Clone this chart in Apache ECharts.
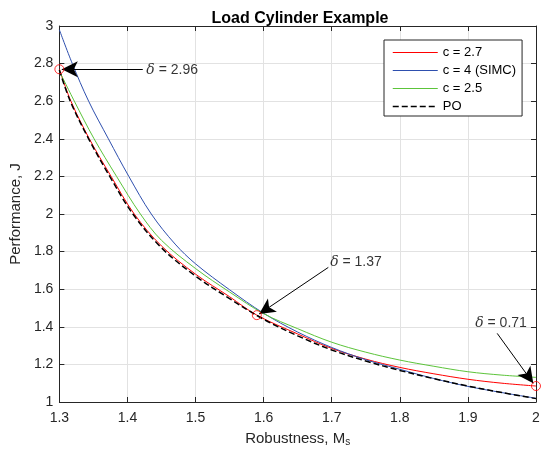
<!DOCTYPE html>
<html>
<head>
<meta charset="utf-8">
<script src="https://cdn.jsdelivr.net/npm/echarts@6/dist/echarts.min.js"></script>
<style>html,body{margin:0;padding:0;background:#fff}#c{width:550px;height:461px}</style>
</head>
<body>
<div id="c"></div>
<script>
// ---- data ----
const seriesNames = ['c = 2.7', 'c = 4 (SIMC)', 'c = 2.5', 'PO'];

const msRed = [1.30, 1.317, 1.344, 1.376, 1.41, 1.45, 1.50, 1.55, 1.59, 1.65, 1.70, 1.75, 1.80, 1.85, 1.90, 1.95, 2.00];
const jRed  = [2.77, 2.60, 2.40, 2.20, 2.00, 1.83, 1.68, 1.56, 1.462, 1.362, 1.285, 1.228, 1.184, 1.150, 1.121, 1.100, 1.085];

const msBlue = [1.30, 1.319, 1.343, 1.372, 1.402, 1.435, 1.47, 1.50, 1.55, 1.60, 1.65, 1.70, 1.75, 1.80, 1.85, 1.90, 1.95, 2.00];
const jBlue  = [2.98, 2.80, 2.60, 2.40, 2.20, 2.00, 1.84, 1.735, 1.597, 1.472, 1.372, 1.29, 1.225, 1.174, 1.125, 1.083, 1.05, 1.02];

const msGreen = [1.30, 1.322, 1.351, 1.384, 1.419, 1.45, 1.50, 1.55, 1.60, 1.65, 1.70, 1.75, 1.80, 1.85, 1.90, 1.95, 2.00];
const jGreen  = [2.76, 2.60, 2.40, 2.20, 2.00, 1.86, 1.71, 1.585, 1.47, 1.39, 1.318, 1.265, 1.223, 1.19, 1.161, 1.143, 1.131];

const msPO = [1.30, 1.316, 1.343, 1.374, 1.408, 1.45, 1.50, 1.55, 1.60, 1.65, 1.70, 1.75, 1.80, 1.85, 1.90, 1.95, 2.00];
const jPO  = [2.766, 2.60, 2.40, 2.20, 2.00, 1.82, 1.67, 1.55, 1.44, 1.352, 1.277, 1.218, 1.168, 1.124, 1.085, 1.05, 1.018];

// annotated points and their arrows / labels (data coordinates)
const markMs = [1.30, 1.59, 2.00];
const markJ  = [2.77, 1.462, 1.085];
const deltaLabels = ['2.96', '1.37', '0.71'];
const labelMs = [1.427, 1.697, 1.910];
const labelJ  = [2.766, 1.743, 1.419];
const arrowFromMs = [1.4225, 1.695, 1.943];
const arrowFromJ  = [2.77, 1.716, 1.365];
const arrowToMs = [1.3036, 1.5934, 1.996];
const arrowToJ  = [2.77, 1.468, 1.0995];

const xMin = 1.3, xMax = 2.0, xStep = 0.1;
const yMin = 1, yMax = 3, yStep = 0.2;

// ---- chart ----
const zip = (a, b) => a.map((v, i) => [v, b[i]]);
const FONT = 'Liberation Sans';
const AX = '#262626';
const chart = echarts.init(document.getElementById('c'), null, {renderer: 'canvas'});

const baseX = {
  type: 'value', min: xMin, max: xMax, interval: xStep,
  axisLine: {show: true, onZero: false, lineStyle: {color: AX, width: 1}},
  axisTick: {show: true, inside: true, length: 5, lineStyle: {color: AX}},
  splitLine: {show: false}
};
const baseY = {
  type: 'value', min: yMin, max: yMax, interval: yStep,
  axisLine: {show: true, onZero: false, lineStyle: {color: AX, width: 1}},
  axisTick: {show: true, inside: true, length: 5, lineStyle: {color: AX}},
  splitLine: {show: false}
};

const lineSeries = (name, data, color, width, type) => ({
  name, type: 'line', data, xAxisIndex: 0, yAxisIndex: 0,
  showSymbol: false, symbol: 'circle', symbolSize: 0, smooth: 0.35,
  lineStyle: {color, width, type}, itemStyle: {color},
  emphasis: {disabled: true}, z: 3
});

chart.setOption({
  animation: false,
  backgroundColor: '#fff',
  textStyle: {fontFamily: FONT},
  title: {
    text: 'Load Cylinder Example', left: 295, top: 6, textAlign: 'center',
    textStyle: {fontFamily: FONT, fontSize: 16, fontWeight: 'bold', color: '#000'}
  },
  grid: {left: 54, right: 14, top: 26, bottom: 59, containLabel: false},
  legend: {
    orient: 'vertical', left: 384, top: 40,
    data: seriesNames,
    backgroundColor: '#fff',
    borderColor: AX, borderWidth: 1,
    padding: [6, 6, 3, 8],
    itemWidth: 45, itemHeight: 12, itemGap: 5,
    itemStyle: {opacity: 0, borderWidth: 0},
    lineStyle: {width: 'inherit'},
    textStyle: {fontFamily: FONT, fontSize: 13, color: '#000'},
    selectedMode: false
  },
  xAxis: [
    Object.assign({}, baseX, {
      position: 'bottom',
      name: '{a|Robustness, M}{s|s}', nameLocation: 'middle', nameGap: 29,
      nameTextStyle: {
        rich: {
          a: {fontFamily: FONT, fontSize: 15, color: AX, verticalAlign: 'top', lineHeight: 18},
          s: {fontFamily: FONT, fontSize: 10, color: AX, verticalAlign: 'top', lineHeight: 18, padding: [6, 0, 0, 0]}
        }
      },
      axisLabel: {show: true, color: AX, fontFamily: FONT, fontSize: 14, margin: 9,
        formatter: v => String(+v.toFixed(1))},
      splitLine: {show: true, lineStyle: {color: '#e2e2e2', width: 1}}
    }),
    Object.assign({}, baseX, {position: 'top', axisLabel: {show: false}})
  ],
  yAxis: [
    Object.assign({}, baseY, {
      position: 'left',
      name: 'Performance, J', nameLocation: 'middle', nameGap: 32,
      nameTextStyle: {fontFamily: FONT, fontSize: 15, color: AX},
      axisLabel: {show: true, color: AX, fontFamily: FONT, fontSize: 14, margin: 6,
        formatter: v => String(+v.toFixed(1))},
      splitLine: {show: true, lineStyle: {color: '#e2e2e2', width: 1}}
    }),
    Object.assign({}, baseY, {position: 'right', axisLabel: {show: false}})
  ],
  series: [
    lineSeries(seriesNames[0], zip(msRed, jRed), '#ff0000', 1, 'solid'),
    lineSeries(seriesNames[1], zip(msBlue, jBlue), '#2e4fae', 1, 'solid'),
    lineSeries(seriesNames[2], zip(msGreen, jGreen), '#5cc43a', 1, 'solid'),
    lineSeries(seriesNames[3], zip(msPO, jPO), '#000000', 1.5, [6, 3]),
    {
      name: 'marks', type: 'scatter', xAxisIndex: 0, yAxisIndex: 0,
      data: zip(markMs, markJ),
      symbol: 'circle', symbolSize: 9,
      itemStyle: {color: 'rgba(0,0,0,0)', borderColor: '#ff0000', borderWidth: 1},
      emphasis: {disabled: true}, silent: true, z: 5,
      markLine: {
        silent: true, animation: false,
        symbol: ['none', 'arrow'], symbolSize: [12, 16],
        label: {show: false},
        lineStyle: {color: '#000', width: 1, type: 'solid'},
        emphasis: {disabled: true},
        data: arrowFromMs.map((x, i) => [
          {coord: [x, arrowFromJ[i]]},
          {coord: [arrowToMs[i], arrowToJ[i]]}
        ])
      }
    },
    {
      name: 'labels', type: 'scatter', xAxisIndex: 0, yAxisIndex: 0,
      data: labelMs.map((x, i) => ({value: [x, labelJ[i]], name: deltaLabels[i]})),
      symbolSize: 1, itemStyle: {color: 'rgba(0,0,0,0)'},
      silent: true, emphasis: {disabled: true}, z: 6,
      label: {
        show: true, position: 'right', distance: 0,
        formatter: p => '{d|δ} = ' + p.name,
        fontFamily: FONT, fontSize: 14, color: '#000',
        rich: {d: {fontFamily: 'DejaVu Serif', fontStyle: 'italic', fontSize: 14, color: '#000'}}
      }
    }
  ]
});
</script>
</body>
</html>
